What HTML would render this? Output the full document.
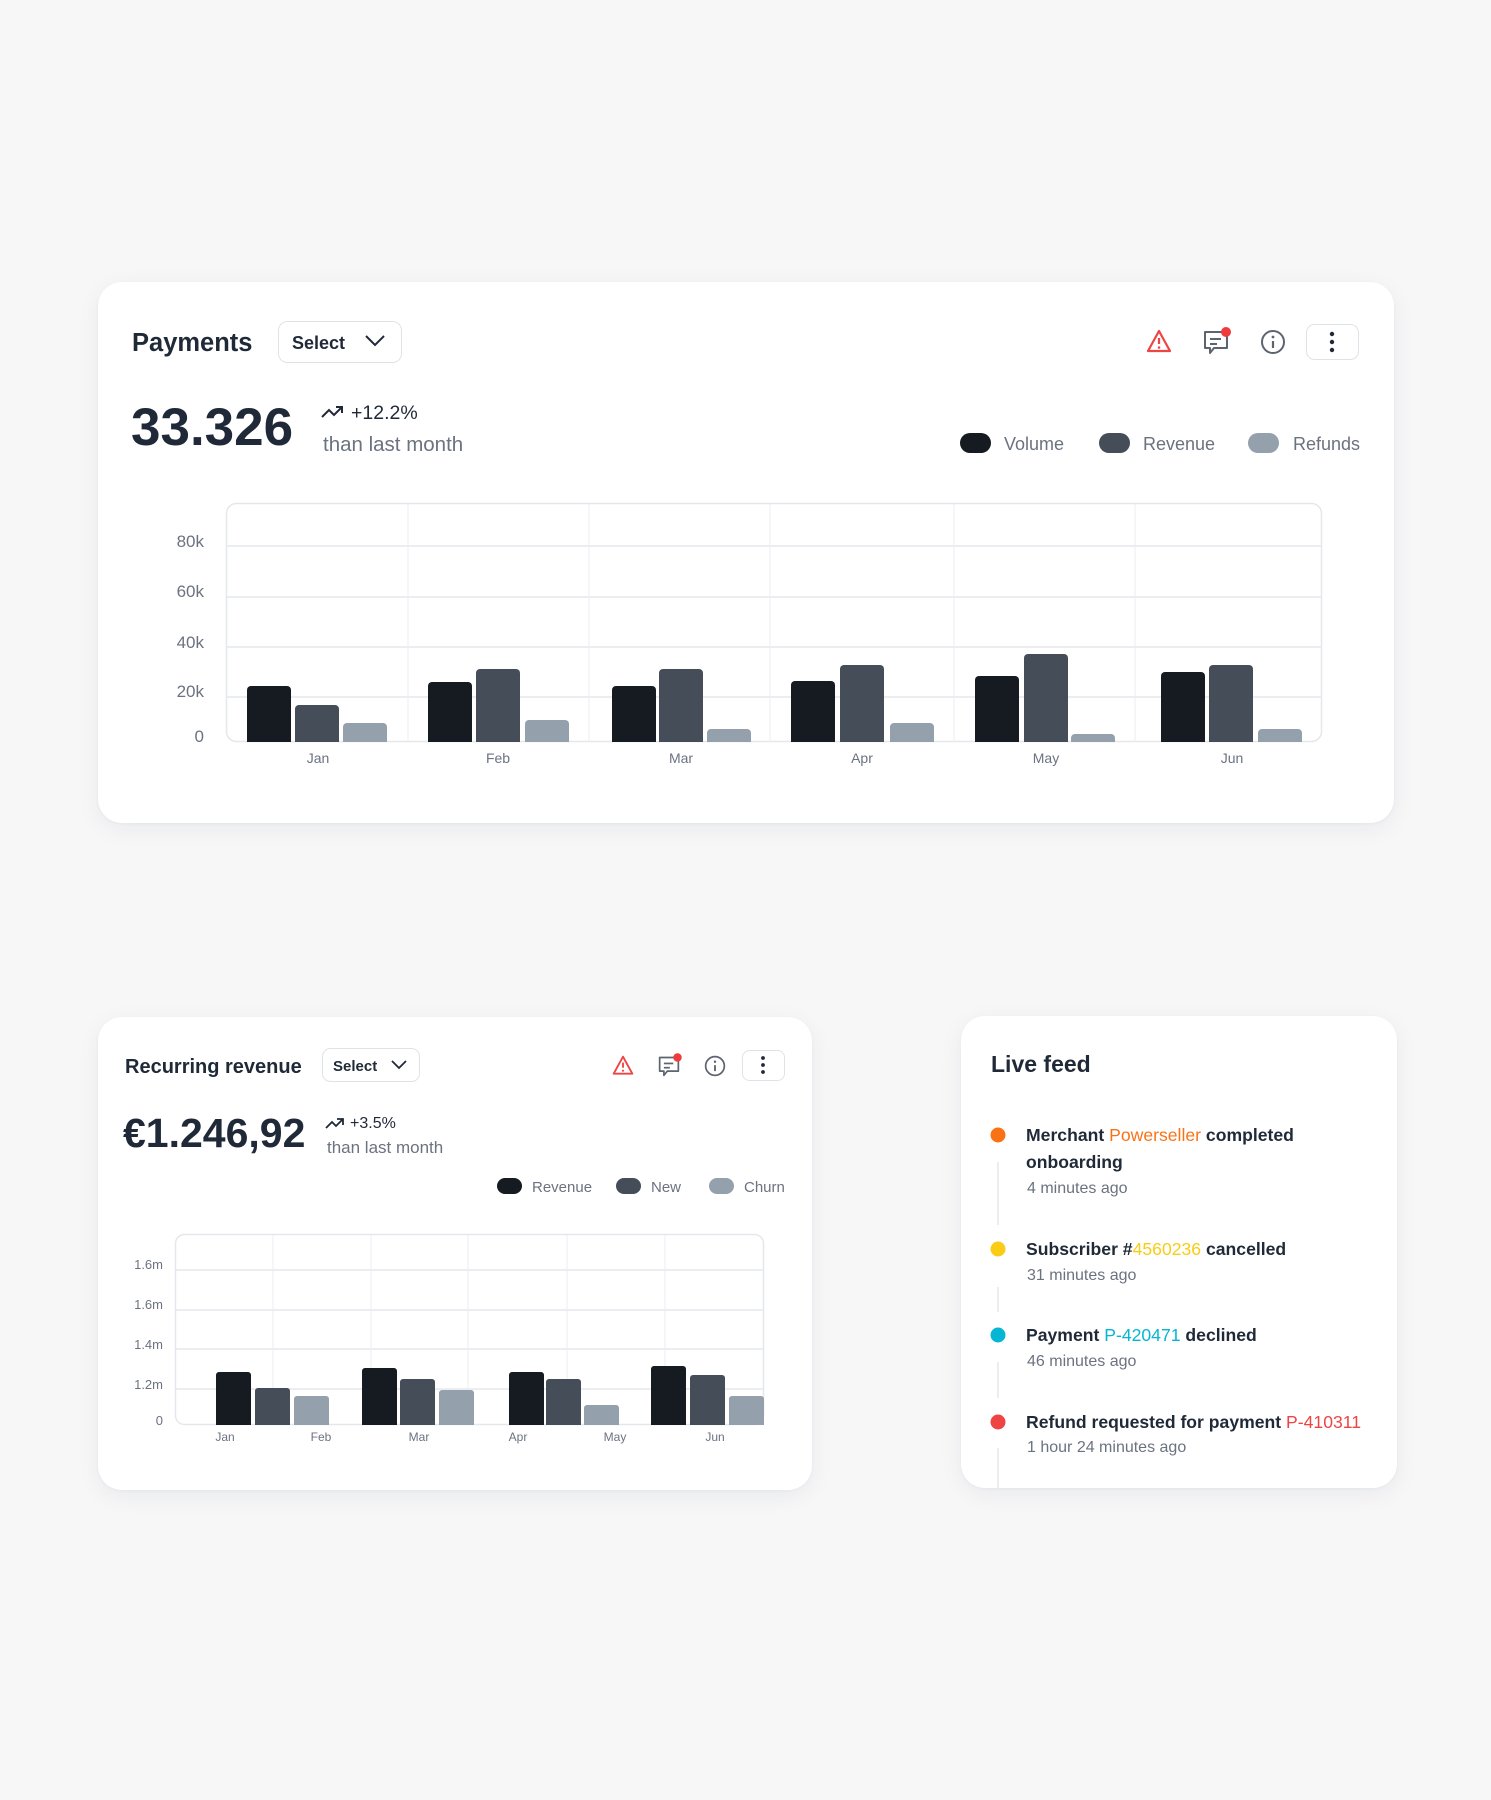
<!DOCTYPE html>
<html><head><meta charset="utf-8"><style>
html,body{margin:0;padding:0;background:#f7f7f8;}
body{width:1491px;height:1800px;position:relative;overflow:hidden;font-family:"Liberation Sans",sans-serif;}
.card{position:absolute;background:#fff;border-radius:24px;box-shadow:0 6px 24px rgba(20,30,50,0.06),0 1px 3px rgba(20,30,50,0.04);}
svg{position:absolute;left:0;top:0;}
</style></head><body>
<div class="card" style="left:98px;top:282px;width:1296px;height:541px"></div>
<div class="card" style="left:98px;top:1017px;width:714px;height:473px"></div>
<div class="card" style="left:961px;top:1016px;width:436px;height:472px"></div>
<svg width="1491" height="1800" viewBox="0 0 1491 1800" font-family="Liberation Sans, sans-serif">
<text x="132" y="351" font-size="25.5" font-weight="700" fill="#1f2937">Payments</text>
<rect x="278.5" y="321.5" width="123" height="41" rx="9" fill="#fff" stroke="#dfe3e8"/>
<text x="292" y="349" font-size="18" font-weight="700" fill="#1f2937">Select</text>
<path d="M366 336 l9 9 l9 -9" fill="none" stroke="#1f2937" stroke-width="2"/>
<g transform="translate(1159,342)"><path d="M0 -11 L11 9 L-11 9 Z" fill="none" stroke="#ef4444" stroke-width="2.2" stroke-linejoin="round"/><line x1="0" y1="-4" x2="0" y2="2" stroke="#ef4444" stroke-width="2.2"/><circle cx="0" cy="5.5" r="1.3" fill="#ef4444"/></g>
<g transform="translate(1216,342)"><path d="M-11 -10 H11 V6 H-2 L-6 11 V6 H-11 Z" fill="none" stroke="#5b6470" stroke-width="2" stroke-linejoin="round"/><line x1="-6" y1="-3" x2="5" y2="-3" stroke="#5b6470" stroke-width="2"/><line x1="-6" y1="2" x2="1" y2="2" stroke="#5b6470" stroke-width="2"/><circle cx="10" cy="-10" r="5" fill="#ef3b3b"/></g>
<g transform="translate(1273,342)"><circle r="11" fill="none" stroke="#5b6470" stroke-width="2"/><line x1="0" y1="-1" x2="0" y2="6" stroke="#5b6470" stroke-width="2.2"/><circle cx="0" cy="-5" r="1.4" fill="#5b6470"/></g>
<rect x="1306.5" y="324.5" width="52" height="35" rx="8" fill="#fff" stroke="#dfe3e8"/>
<circle cx="1332" cy="334" r="2.2" fill="#1f2937"/><circle cx="1332" cy="342" r="2.2" fill="#1f2937"/><circle cx="1332" cy="350" r="2.2" fill="#1f2937"/>
<text x="131" y="445" font-size="53" font-weight="700" fill="#1f2937">33.326</text>
<path d="M322 417 l7 -7 l5 5 l8 -8 M336 407 h6 v6" fill="none" stroke="#1f2937" stroke-width="2"/>
<text x="351" y="419" font-size="19.5" fill="#1f2937">+12.2%</text>
<text x="323" y="451" font-size="20.5" fill="#6b7280">than last month</text>
<rect x="960" y="433" width="31" height="20" rx="10" fill="#161b22"/><text x="1004" y="450" font-size="18" fill="#6b7280">Volume</text>
<rect x="1099" y="433" width="31" height="20" rx="10" fill="#454d58"/><text x="1143" y="450" font-size="18" fill="#6b7280">Revenue</text>
<rect x="1248" y="433" width="31" height="20" rx="10" fill="#94a0ab"/><text x="1293" y="450" font-size="18" fill="#6b7280">Refunds</text>
<rect x="226.5" y="503.5" width="1095" height="238" rx="10" fill="none" stroke="#e5e7eb" stroke-width="1.5"/>
<g stroke="#e5e7eb" stroke-width="1.5"><line x1="226" y1="546" x2="1321" y2="546"/><line x1="226" y1="597" x2="1321" y2="597"/><line x1="226" y1="647" x2="1321" y2="647"/><line x1="226" y1="697" x2="1321" y2="697"/></g>
<g stroke="#ebedf0" stroke-width="1"><line x1="408" y1="504" x2="408" y2="742"/><line x1="589" y1="504" x2="589" y2="742"/><line x1="770" y1="504" x2="770" y2="742"/><line x1="954" y1="504" x2="954" y2="742"/><line x1="1135" y1="504" x2="1135" y2="742"/></g>
<g font-size="17" fill="#6b7280" text-anchor="end"><text x="204" y="547">80k</text><text x="204" y="597">60k</text><text x="204" y="648">40k</text><text x="204" y="697">20k</text><text x="204" y="742">0</text></g>
<g font-size="14" fill="#6b7280" text-anchor="middle"><text x="318" y="763">Jan</text><text x="498" y="763">Feb</text><text x="681" y="763">Mar</text><text x="862" y="763">Apr</text><text x="1046" y="763">May</text><text x="1232" y="763">Jun</text></g>
<g>
<path d="M247 742V690a4 4 0 0 1 4-4h36a4 4 0 0 1 4 4V742Z" fill="#161b22"/>
<path d="M295 742V709a4 4 0 0 1 4-4h36a4 4 0 0 1 4 4V742Z" fill="#454d58"/>
<path d="M343 742V727a4 4 0 0 1 4-4h36a4 4 0 0 1 4 4V742Z" fill="#94a0ab"/>
<path d="M428 742V686a4 4 0 0 1 4-4h36a4 4 0 0 1 4 4V742Z" fill="#161b22"/>
<path d="M476 742V673a4 4 0 0 1 4-4h36a4 4 0 0 1 4 4V742Z" fill="#454d58"/>
<path d="M525 742V724a4 4 0 0 1 4-4h36a4 4 0 0 1 4 4V742Z" fill="#94a0ab"/>
<path d="M612 742V690a4 4 0 0 1 4-4h36a4 4 0 0 1 4 4V742Z" fill="#161b22"/>
<path d="M659 742V673a4 4 0 0 1 4-4h36a4 4 0 0 1 4 4V742Z" fill="#454d58"/>
<path d="M707 742V733a4 4 0 0 1 4-4h36a4 4 0 0 1 4 4V742Z" fill="#94a0ab"/>
<path d="M791 742V685a4 4 0 0 1 4-4h36a4 4 0 0 1 4 4V742Z" fill="#161b22"/>
<path d="M840 742V669a4 4 0 0 1 4-4h36a4 4 0 0 1 4 4V742Z" fill="#454d58"/>
<path d="M890 742V727a4 4 0 0 1 4-4h36a4 4 0 0 1 4 4V742Z" fill="#94a0ab"/>
<path d="M975 742V680a4 4 0 0 1 4-4h36a4 4 0 0 1 4 4V742Z" fill="#161b22"/>
<path d="M1024 742V658a4 4 0 0 1 4-4h36a4 4 0 0 1 4 4V742Z" fill="#454d58"/>
<path d="M1071 742V738a4 4 0 0 1 4-4h36a4 4 0 0 1 4 4V742Z" fill="#94a0ab"/>
<path d="M1161 742V676a4 4 0 0 1 4-4h36a4 4 0 0 1 4 4V742Z" fill="#161b22"/>
<path d="M1209 742V669a4 4 0 0 1 4-4h36a4 4 0 0 1 4 4V742Z" fill="#454d58"/>
<path d="M1258 742V733a4 4 0 0 1 4-4h36a4 4 0 0 1 4 4V742Z" fill="#94a0ab"/>
</g>

<text x="125" y="1073" font-size="20" font-weight="700" fill="#1f2937">Recurring revenue</text>
<rect x="322.5" y="1048.5" width="97" height="33" rx="8" fill="#fff" stroke="#dfe3e8"/>
<text x="333" y="1071" font-size="15" font-weight="700" fill="#1f2937">Select</text>
<path d="M392 1061 l7 7 l7 -7" fill="none" stroke="#1f2937" stroke-width="1.8"/>
<g transform="translate(623,1066) scale(0.85)"><path d="M0 -11 L11 9 L-11 9 Z" fill="none" stroke="#ef4444" stroke-width="2.2" stroke-linejoin="round"/><line x1="0" y1="-4" x2="0" y2="2" stroke="#ef4444" stroke-width="2.2"/><circle cx="0" cy="5.5" r="1.3" fill="#ef4444"/></g>
<g transform="translate(669,1066) scale(0.85)"><path d="M-11 -10 H11 V6 H-2 L-6 11 V6 H-11 Z" fill="none" stroke="#5b6470" stroke-width="2" stroke-linejoin="round"/><line x1="-6" y1="-3" x2="5" y2="-3" stroke="#5b6470" stroke-width="2"/><line x1="-6" y1="2" x2="1" y2="2" stroke="#5b6470" stroke-width="2"/><circle cx="10" cy="-10" r="5" fill="#ef3b3b"/></g>
<g transform="translate(715,1066) scale(0.85)"><circle r="11" fill="none" stroke="#5b6470" stroke-width="2"/><line x1="0" y1="-1" x2="0" y2="6" stroke="#5b6470" stroke-width="2.2"/><circle cx="0" cy="-5" r="1.4" fill="#5b6470"/></g>
<rect x="742.5" y="1050.5" width="42" height="30" rx="7" fill="#fff" stroke="#dfe3e8"/>
<circle cx="763" cy="1058" r="1.9" fill="#1f2937"/><circle cx="763" cy="1065" r="1.9" fill="#1f2937"/><circle cx="763" cy="1072" r="1.9" fill="#1f2937"/>
<text x="123" y="1147" font-size="41" font-weight="700" fill="#1f2937">€1.246,92</text>
<path d="M326 1128 l6 -6 l4 4 l7 -7 M337 1119 h6 v6" fill="none" stroke="#1f2937" stroke-width="1.8"/>
<text x="350" y="1128" font-size="16" fill="#1f2937">+3.5%</text>
<text x="327" y="1153" font-size="17" fill="#6b7280">than last month</text>
<rect x="497" y="1178" width="25" height="16" rx="8" fill="#161b22"/><text x="532" y="1192" font-size="15" fill="#6b7280">Revenue</text>
<rect x="616" y="1178" width="25" height="16" rx="8" fill="#454d58"/><text x="651" y="1192" font-size="15" fill="#6b7280">New</text>
<rect x="709" y="1178" width="25" height="16" rx="8" fill="#94a0ab"/><text x="744" y="1192" font-size="15" fill="#6b7280">Churn</text>
<rect x="175.5" y="1234.5" width="588" height="190" rx="9" fill="none" stroke="#e5e7eb" stroke-width="1.5"/>
<g stroke="#e5e7eb" stroke-width="1.5"><line x1="175" y1="1270" x2="763" y2="1270"/><line x1="175" y1="1310" x2="763" y2="1310"/><line x1="175" y1="1349" x2="763" y2="1349"/><line x1="175" y1="1389" x2="763" y2="1389"/></g>
<g stroke="#ebedf0" stroke-width="1"><line x1="273" y1="1235" x2="273" y2="1425"/><line x1="371" y1="1235" x2="371" y2="1425"/><line x1="468" y1="1235" x2="468" y2="1425"/><line x1="567" y1="1235" x2="567" y2="1425"/><line x1="665" y1="1235" x2="665" y2="1425"/></g>
<g font-size="13" fill="#6b7280" text-anchor="end"><text x="163" y="1269">1.6m</text><text x="163" y="1309">1.6m</text><text x="163" y="1349">1.4m</text><text x="163" y="1389">1.2m</text><text x="163" y="1425">0</text></g>
<g font-size="12" fill="#6b7280" text-anchor="middle"><text x="225" y="1441">Jan</text><text x="321" y="1441">Feb</text><text x="419" y="1441">Mar</text><text x="518" y="1441">Apr</text><text x="615" y="1441">May</text><text x="715" y="1441">Jun</text></g>
<g>
<path d="M216 1425V1375a3 3 0 0 1 3-3h29a3 3 0 0 1 3 3V1425Z" fill="#161b22"/>
<path d="M255 1425V1391a3 3 0 0 1 3-3h29a3 3 0 0 1 3 3V1425Z" fill="#454d58"/>
<path d="M294 1425V1399a3 3 0 0 1 3-3h29a3 3 0 0 1 3 3V1425Z" fill="#94a0ab"/>
<path d="M362 1425V1371a3 3 0 0 1 3-3h29a3 3 0 0 1 3 3V1425Z" fill="#161b22"/>
<path d="M400 1425V1382a3 3 0 0 1 3-3h29a3 3 0 0 1 3 3V1425Z" fill="#454d58"/>
<path d="M439 1425V1393a3 3 0 0 1 3-3h29a3 3 0 0 1 3 3V1425Z" fill="#94a0ab"/>
<path d="M509 1425V1375a3 3 0 0 1 3-3h29a3 3 0 0 1 3 3V1425Z" fill="#161b22"/>
<path d="M546 1425V1382a3 3 0 0 1 3-3h29a3 3 0 0 1 3 3V1425Z" fill="#454d58"/>
<path d="M584 1425V1408a3 3 0 0 1 3-3h29a3 3 0 0 1 3 3V1425Z" fill="#94a0ab"/>
<path d="M651 1425V1369a3 3 0 0 1 3-3h29a3 3 0 0 1 3 3V1425Z" fill="#161b22"/>
<path d="M690 1425V1378a3 3 0 0 1 3-3h29a3 3 0 0 1 3 3V1425Z" fill="#454d58"/>
<path d="M729 1425V1399a3 3 0 0 1 3-3h29a3 3 0 0 1 3 3V1425Z" fill="#94a0ab"/>
</g>

<text x="991" y="1072" font-size="23" font-weight="700" fill="#1f2937">Live feed</text>
<g stroke="#e5e7eb" stroke-width="1.5"><line x1="998" y1="1162" x2="998" y2="1225"/><line x1="998" y1="1287" x2="998" y2="1312"/><line x1="998" y1="1362" x2="998" y2="1398"/><line x1="998" y1="1448" x2="998" y2="1488"/></g>
<circle cx="998" cy="1135" r="7.5" fill="#f97316"/>
<circle cx="998" cy="1249" r="7.5" fill="#facc15"/>
<circle cx="998" cy="1335" r="7.5" fill="#06b6d4"/>
<circle cx="998" cy="1422" r="7.5" fill="#ef4444"/>
<g font-size="17.6" font-weight="700" fill="#1f2937">
<text x="1026" y="1141">Merchant <tspan fill="#f97316" font-weight="400">Powerseller</tspan> completed</text>
<text x="1026" y="1168">onboarding</text>
<text x="1026" y="1255">Subscriber #<tspan fill="#facc15" font-weight="400">4560236</tspan> cancelled</text>
<text x="1026" y="1341">Payment <tspan fill="#06b6d4" font-weight="400">P-420471</tspan> declined</text>
<text x="1026" y="1428">Refund requested for payment <tspan fill="#ef4444" font-weight="400">P-410311</tspan></text>
</g>
<g font-size="16" fill="#6b7280">
<text x="1027" y="1193">4 minutes ago</text>
<text x="1027" y="1280">31 minutes ago</text>
<text x="1027" y="1366">46 minutes ago</text>
<text x="1027" y="1452">1 hour 24 minutes ago</text>
</g>
</svg>
</body></html>
